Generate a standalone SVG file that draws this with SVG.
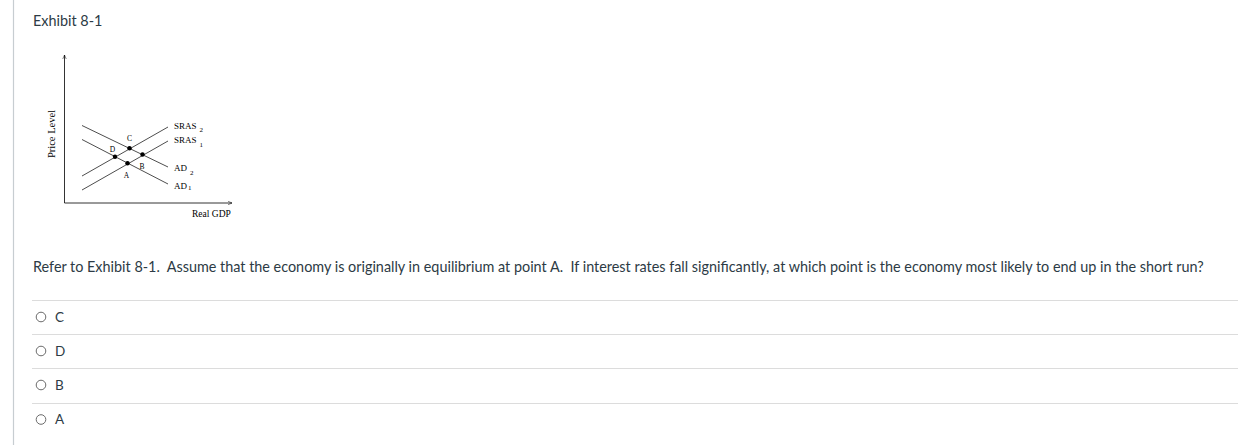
<svg xmlns="http://www.w3.org/2000/svg" width="1238" height="445" viewBox="0 0 1238 445">
<style>
.ui{font-family:Lato,"Liberation Sans",sans-serif;fill:#2d3b45}
.h{font-size:14.4px}
.q{font-size:14.4px;white-space:pre}
.opt{font-size:13.5px}
.sep{stroke:#dcdcdc;stroke-width:1}
.radio{fill:#fff;stroke:#6b6b6b;stroke-width:1}
.ax{stroke:#000;stroke-width:0.8;fill:none}
.cv{stroke:#000;stroke-width:0.7;fill:none}
.g{font-family:"Liberation Serif","Times New Roman",serif;fill:#000}
.lab{font-size:9px}
.sub{font-size:7px}
.pt{font-size:7.5px}
.dot{fill:#000}
</style>
<defs>
<marker id="arr" viewBox="0 0 10 10" refX="9" refY="5" markerWidth="6" markerHeight="6" orient="auto">
<path d="M0,1 L9,5 L0,9" fill="none" stroke="#000" stroke-width="1"/>
</marker>
</defs>
<rect width="1238" height="445" fill="#fff"/>
<line x1="13.5" y1="0" x2="13.5" y2="445" stroke="#c7cdd1" stroke-width="1.2"/>
<text class="ui h" x="33" y="26">Exhibit 8-1</text>

<g id="graph">
<g id="axes">
<line class="ax" x1="64.5" y1="203" x2="64.5" y2="55" marker-end="url(#arr)"/>
<line class="ax" x1="64.5" y1="203" x2="232" y2="203" marker-end="url(#arr)"/>
<text class="g lab" transform="translate(55,134) rotate(-90)" text-anchor="middle" style="font-size:10.5px">Price Level</text>
<text class="g lab" x="192" y="217" style="font-size:9.5px">Real GDP</text>
</g>
<g id="curves">
<line class="cv" x1="82" y1="176" x2="168" y2="127"/>
<line class="cv" x1="82" y1="190" x2="168" y2="141"/>
<line class="cv" x1="82" y1="125.5" x2="168" y2="167"/>
<line class="cv" x1="82" y1="139.5" x2="168" y2="184"/>
</g>
<g id="curve-labels">
<text class="g lab" x="174" y="129">SRAS<tspan class="sub" dx="3" dy="3">2</tspan></text>
<text class="g lab" x="174" y="143">SRAS<tspan class="sub" dx="3" dy="4">1</tspan></text>
<text class="g lab" x="174" y="171">AD<tspan class="sub" dx="3" dy="4">2</tspan></text>
<text class="g lab" x="174" y="189">AD<tspan class="sub" dx="1" dy="1">1</tspan></text>
</g>
<g id="point-C"><circle class="dot" cx="129.5" cy="148.3" r="2.2"/><text class="g pt" x="129.5" y="141" text-anchor="middle">C</text></g>
<g id="point-D"><circle class="dot" cx="115" cy="156.8" r="2.2"/><text class="g pt" x="112.5" y="152" text-anchor="middle">D</text></g>
<g id="point-B"><circle class="dot" cx="142.5" cy="154.5" r="2.2"/><text class="g pt" x="142" y="169" text-anchor="middle">B</text></g>
<g id="point-A"><circle class="dot" cx="127.5" cy="163.3" r="2.2"/><text class="g pt" x="126.5" y="177.5" text-anchor="middle">A</text></g>
</g>

<text class="ui q" x="33" y="272" xml:space="preserve">Refer to Exhibit 8-1.  Assume that the economy is originally in equilibrium at point A.  If interest rates fall significantly, at which point is the economy most likely to end up in the short run?</text>

<g id="options">
<line class="sep" x1="32" y1="300.5" x2="1238" y2="300.5"/>
<g id="opt-C"><circle class="radio" cx="41" cy="317" r="4.8"/><text class="ui opt" x="55" y="321.5">C</text></g>
<line class="sep" x1="32" y1="334.5" x2="1238" y2="334.5"/>
<g id="opt-D"><circle class="radio" cx="41" cy="351" r="4.8"/><text class="ui opt" x="55" y="355.5">D</text></g>
<line class="sep" x1="32" y1="368.5" x2="1238" y2="368.5"/>
<g id="opt-B"><circle class="radio" cx="41" cy="385" r="4.8"/><text class="ui opt" x="55" y="389.5">B</text></g>
<line class="sep" x1="32" y1="403.5" x2="1238" y2="403.5"/>
<g id="opt-A"><circle class="radio" cx="41" cy="419.5" r="4.8"/><text class="ui opt" x="55" y="424">A</text></g>
</g>
</svg>
